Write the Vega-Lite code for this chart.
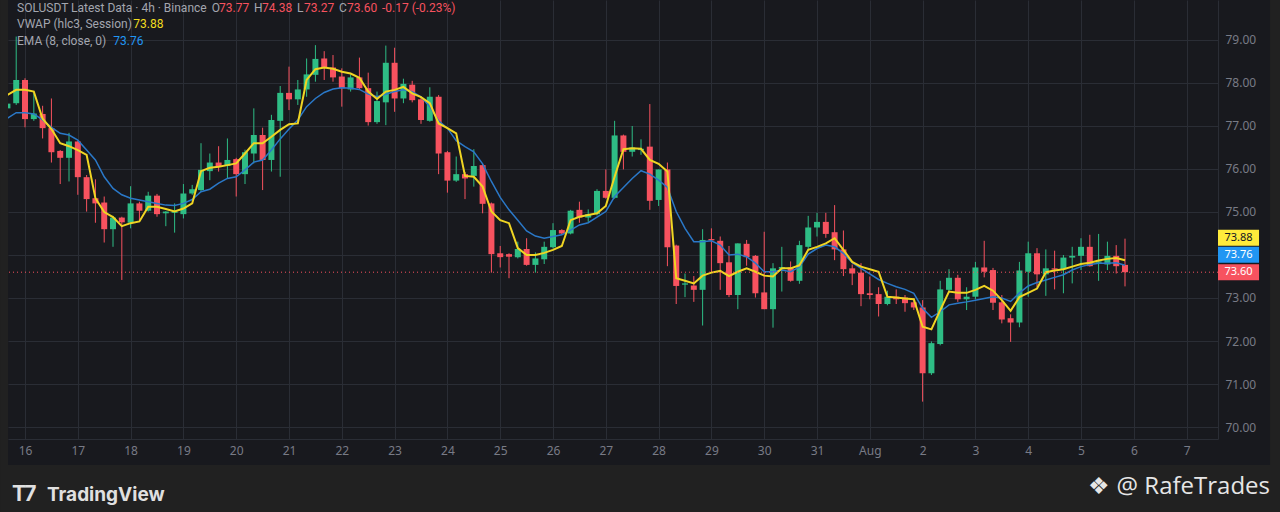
{
  "$schema": "https://vega.github.io/schema/vega-lite/v6.json",
  "width": 1210,
  "height": 439,
  "autosize": "none",
  "padding": {"left": 8, "top": 0, "right": 62, "bottom": 73},
  "background": "#18191e",
  "config": {"view": {"stroke": null}, "font": "Noto Sans"},
  "datasets": {
    "candles": [
      {"t": "2023-07-15T16:00Z", "o": 77.41, "h": 77.60, "l": 77.35, "c": 77.52, "vw": 77.72, "ema": 77.18},
      {"t": "2023-07-15T20:00Z", "o": 77.53, "h": 79.08, "l": 77.49, "c": 78.07, "vw": 77.84, "ema": 77.31},
      {"t": "2023-07-16T00:00Z", "o": 78.07, "h": 78.11, "l": 76.97, "c": 77.16, "vw": 77.84, "ema": 77.31},
      {"t": "2023-07-16T04:00Z", "o": 77.16, "h": 77.76, "l": 77.12, "c": 77.29, "vw": 77.80, "ema": 77.28},
      {"t": "2023-07-16T08:00Z", "o": 77.28, "h": 77.47, "l": 76.71, "c": 76.95, "vw": 77.17, "ema": 77.14},
      {"t": "2023-07-16T12:00Z", "o": 76.95, "h": 77.64, "l": 76.15, "c": 76.39, "vw": 76.93, "ema": 76.97},
      {"t": "2023-07-16T16:00Z", "o": 76.42, "h": 76.44, "l": 75.65, "c": 76.26, "vw": 76.60, "ema": 76.83},
      {"t": "2023-07-16T20:00Z", "o": 76.26, "h": 76.84, "l": 75.71, "c": 76.64, "vw": 76.53, "ema": 76.79},
      {"t": "2023-07-17T00:00Z", "o": 76.64, "h": 76.65, "l": 75.40, "c": 75.81, "vw": 76.44, "ema": 76.67},
      {"t": "2023-07-17T04:00Z", "o": 75.81, "h": 75.86, "l": 75.01, "c": 75.30, "vw": 76.33, "ema": 76.44},
      {"t": "2023-07-17T08:00Z", "o": 75.32, "h": 75.76, "l": 74.75, "c": 75.20, "vw": 75.32, "ema": 76.21},
      {"t": "2023-07-17T12:00Z", "o": 75.22, "h": 75.36, "l": 74.29, "c": 74.60, "vw": 75.00, "ema": 75.82},
      {"t": "2023-07-17T16:00Z", "o": 74.60, "h": 74.91, "l": 74.19, "c": 74.87, "vw": 74.88, "ema": 75.55},
      {"t": "2023-07-17T20:00Z", "o": 74.87, "h": 74.89, "l": 73.42, "c": 74.76, "vw": 74.67, "ema": 75.40},
      {"t": "2023-07-18T00:00Z", "o": 74.75, "h": 75.60, "l": 74.62, "c": 75.20, "vw": 74.74, "ema": 75.32},
      {"t": "2023-07-18T04:00Z", "o": 75.20, "h": 75.24, "l": 74.81, "c": 75.03, "vw": 74.78, "ema": 75.28},
      {"t": "2023-07-18T08:00Z", "o": 75.03, "h": 75.47, "l": 75.01, "c": 75.38, "vw": 75.12, "ema": 75.24},
      {"t": "2023-07-18T12:00Z", "o": 75.38, "h": 75.42, "l": 74.89, "c": 74.95, "vw": 75.12, "ema": 75.20},
      {"t": "2023-07-18T16:00Z", "o": 74.97, "h": 75.02, "l": 74.67, "c": 75.01, "vw": 75.07, "ema": 75.16},
      {"t": "2023-07-18T20:00Z", "o": 74.98, "h": 75.20, "l": 74.52, "c": 75.01, "vw": 75.01, "ema": 75.15},
      {"t": "2023-07-19T00:00Z", "o": 74.95, "h": 75.65, "l": 74.85, "c": 75.43, "vw": 75.08, "ema": 75.20},
      {"t": "2023-07-19T04:00Z", "o": 75.43, "h": 75.63, "l": 75.40, "c": 75.53, "vw": 75.20, "ema": 75.29},
      {"t": "2023-07-19T08:00Z", "o": 75.51, "h": 76.60, "l": 75.47, "c": 75.98, "vw": 75.95, "ema": 75.47},
      {"t": "2023-07-19T12:00Z", "o": 75.95, "h": 76.36, "l": 75.74, "c": 76.15, "vw": 76.03, "ema": 75.53},
      {"t": "2023-07-19T16:00Z", "o": 76.15, "h": 76.53, "l": 75.94, "c": 76.05, "vw": 76.05, "ema": 75.67},
      {"t": "2023-07-19T20:00Z", "o": 76.07, "h": 76.71, "l": 75.78, "c": 76.21, "vw": 76.09, "ema": 75.78},
      {"t": "2023-07-20T00:00Z", "o": 76.23, "h": 76.26, "l": 75.36, "c": 75.88, "vw": 76.13, "ema": 75.82},
      {"t": "2023-07-20T04:00Z", "o": 75.88, "h": 76.45, "l": 75.65, "c": 76.39, "vw": 76.36, "ema": 75.98},
      {"t": "2023-07-20T08:00Z", "o": 76.36, "h": 77.41, "l": 76.13, "c": 76.79, "vw": 76.60, "ema": 76.16},
      {"t": "2023-07-20T12:00Z", "o": 76.79, "h": 76.96, "l": 75.51, "c": 76.21, "vw": 76.60, "ema": 76.21},
      {"t": "2023-07-20T16:00Z", "o": 76.21, "h": 77.26, "l": 75.94, "c": 77.14, "vw": 76.75, "ema": 76.44},
      {"t": "2023-07-20T20:00Z", "o": 77.12, "h": 77.93, "l": 75.82, "c": 77.77, "vw": 76.91, "ema": 76.70},
      {"t": "2023-07-21T00:00Z", "o": 77.77, "h": 78.38, "l": 77.37, "c": 77.62, "vw": 77.04, "ema": 76.93},
      {"t": "2023-07-21T04:00Z", "o": 77.62, "h": 78.07, "l": 77.49, "c": 77.85, "vw": 77.06, "ema": 77.14},
      {"t": "2023-07-21T08:00Z", "o": 77.85, "h": 78.57, "l": 77.68, "c": 78.20, "vw": 78.07, "ema": 77.45},
      {"t": "2023-07-21T12:00Z", "o": 78.19, "h": 78.88, "l": 78.03, "c": 78.56, "vw": 78.32, "ema": 77.64},
      {"t": "2023-07-21T16:00Z", "o": 78.57, "h": 78.74, "l": 78.07, "c": 78.36, "vw": 78.36, "ema": 77.78},
      {"t": "2023-07-21T20:00Z", "o": 78.36, "h": 78.65, "l": 78.03, "c": 78.13, "vw": 78.33, "ema": 77.86},
      {"t": "2023-07-22T00:00Z", "o": 78.15, "h": 78.34, "l": 77.45, "c": 77.88, "vw": 78.26, "ema": 77.89},
      {"t": "2023-07-22T04:00Z", "o": 77.85, "h": 78.20, "l": 77.80, "c": 78.13, "vw": 78.22, "ema": 77.88},
      {"t": "2023-07-22T08:00Z", "o": 78.13, "h": 78.59, "l": 77.84, "c": 77.88, "vw": 78.12, "ema": 77.85},
      {"t": "2023-07-22T12:00Z", "o": 77.88, "h": 78.24, "l": 77.01, "c": 77.09, "vw": 77.80, "ema": 77.74},
      {"t": "2023-07-22T16:00Z", "o": 77.09, "h": 77.80, "l": 77.05, "c": 77.58, "vw": 77.63, "ema": 77.68},
      {"t": "2023-07-22T20:00Z", "o": 77.55, "h": 78.87, "l": 77.02, "c": 78.47, "vw": 77.80, "ema": 77.74},
      {"t": "2023-07-23T00:00Z", "o": 78.47, "h": 78.82, "l": 77.33, "c": 77.64, "vw": 77.84, "ema": 77.80},
      {"t": "2023-07-23T04:00Z", "o": 77.64, "h": 78.10, "l": 77.53, "c": 77.98, "vw": 77.91, "ema": 77.84},
      {"t": "2023-07-23T08:00Z", "o": 77.96, "h": 78.05, "l": 77.55, "c": 77.60, "vw": 77.76, "ema": 77.80},
      {"t": "2023-07-23T12:00Z", "o": 77.62, "h": 77.68, "l": 77.05, "c": 77.14, "vw": 77.67, "ema": 77.68},
      {"t": "2023-07-23T16:00Z", "o": 77.12, "h": 77.90, "l": 77.10, "c": 77.68, "vw": 77.53, "ema": 77.45},
      {"t": "2023-07-23T20:00Z", "o": 77.68, "h": 77.72, "l": 75.88, "c": 76.36, "vw": 77.06, "ema": 77.12},
      {"t": "2023-07-24T00:00Z", "o": 76.39, "h": 76.42, "l": 75.45, "c": 75.73, "vw": 76.95, "ema": 76.95},
      {"t": "2023-07-24T04:00Z", "o": 75.73, "h": 76.29, "l": 75.70, "c": 75.88, "vw": 76.83, "ema": 76.66},
      {"t": "2023-07-24T08:00Z", "o": 75.88, "h": 75.93, "l": 75.30, "c": 75.78, "vw": 75.84, "ema": 76.52},
      {"t": "2023-07-24T12:00Z", "o": 75.84, "h": 76.46, "l": 75.59, "c": 76.07, "vw": 75.82, "ema": 76.40},
      {"t": "2023-07-24T16:00Z", "o": 76.09, "h": 76.12, "l": 74.97, "c": 75.19, "vw": 75.59, "ema": 76.12},
      {"t": "2023-07-24T20:00Z", "o": 75.20, "h": 75.22, "l": 73.59, "c": 74.02, "vw": 75.01, "ema": 75.71},
      {"t": "2023-07-25T00:00Z", "o": 74.04, "h": 74.21, "l": 73.71, "c": 73.95, "vw": 74.81, "ema": 75.34},
      {"t": "2023-07-25T04:00Z", "o": 74.02, "h": 74.04, "l": 73.46, "c": 73.96, "vw": 74.74, "ema": 75.05},
      {"t": "2023-07-25T08:00Z", "o": 73.95, "h": 74.31, "l": 73.92, "c": 74.14, "vw": 74.16, "ema": 74.81},
      {"t": "2023-07-25T12:00Z", "o": 74.14, "h": 74.39, "l": 73.75, "c": 73.77, "vw": 74.00, "ema": 74.56},
      {"t": "2023-07-25T16:00Z", "o": 73.77, "h": 74.06, "l": 73.59, "c": 73.92, "vw": 74.00, "ema": 74.44},
      {"t": "2023-07-25T20:00Z", "o": 73.90, "h": 74.31, "l": 73.79, "c": 74.19, "vw": 74.05, "ema": 74.39},
      {"t": "2023-07-26T00:00Z", "o": 74.18, "h": 74.74, "l": 74.15, "c": 74.58, "vw": 74.12, "ema": 74.43},
      {"t": "2023-07-26T04:00Z", "o": 74.58, "h": 74.60, "l": 74.48, "c": 74.50, "vw": 74.21, "ema": 74.47},
      {"t": "2023-07-26T08:00Z", "o": 74.50, "h": 75.05, "l": 74.48, "c": 75.03, "vw": 74.81, "ema": 74.58},
      {"t": "2023-07-26T12:00Z", "o": 75.05, "h": 75.24, "l": 74.75, "c": 74.87, "vw": 74.89, "ema": 74.70},
      {"t": "2023-07-26T16:00Z", "o": 74.87, "h": 75.06, "l": 74.77, "c": 74.95, "vw": 74.93, "ema": 74.75},
      {"t": "2023-07-26T20:00Z", "o": 74.95, "h": 75.53, "l": 74.92, "c": 75.49, "vw": 74.97, "ema": 74.88},
      {"t": "2023-07-27T00:00Z", "o": 75.49, "h": 75.99, "l": 75.31, "c": 75.33, "vw": 75.14, "ema": 75.01},
      {"t": "2023-07-27T04:00Z", "o": 75.33, "h": 77.12, "l": 75.31, "c": 76.78, "vw": 75.82, "ema": 75.36},
      {"t": "2023-07-27T08:00Z", "o": 76.78, "h": 76.80, "l": 75.99, "c": 76.40, "vw": 76.46, "ema": 75.57},
      {"t": "2023-07-27T12:00Z", "o": 76.40, "h": 77.00, "l": 76.29, "c": 76.50, "vw": 76.48, "ema": 75.78},
      {"t": "2023-07-27T16:00Z", "o": 76.44, "h": 76.69, "l": 76.33, "c": 76.47, "vw": 76.47, "ema": 75.96},
      {"t": "2023-07-27T20:00Z", "o": 76.52, "h": 77.51, "l": 75.05, "c": 75.26, "vw": 76.21, "ema": 75.88},
      {"t": "2023-07-28T00:00Z", "o": 75.28, "h": 75.99, "l": 75.14, "c": 75.99, "vw": 76.12, "ema": 75.74},
      {"t": "2023-07-28T04:00Z", "o": 75.99, "h": 76.15, "l": 73.74, "c": 74.18, "vw": 75.94, "ema": 75.57},
      {"t": "2023-07-28T08:00Z", "o": 74.22, "h": 74.24, "l": 72.86, "c": 73.28, "vw": 73.46, "ema": 75.01},
      {"t": "2023-07-28T12:00Z", "o": 73.31, "h": 73.57, "l": 73.02, "c": 73.34, "vw": 73.40, "ema": 74.62},
      {"t": "2023-07-28T16:00Z", "o": 73.29, "h": 73.51, "l": 72.91, "c": 73.19, "vw": 73.34, "ema": 74.31},
      {"t": "2023-07-28T20:00Z", "o": 73.19, "h": 74.60, "l": 72.36, "c": 74.35, "vw": 73.52, "ema": 74.31},
      {"t": "2023-07-29T00:00Z", "o": 74.37, "h": 74.62, "l": 73.60, "c": 74.34, "vw": 73.59, "ema": 74.33},
      {"t": "2023-07-29T04:00Z", "o": 74.33, "h": 74.43, "l": 73.19, "c": 73.81, "vw": 73.63, "ema": 74.23},
      {"t": "2023-07-29T08:00Z", "o": 73.83, "h": 74.21, "l": 73.02, "c": 73.07, "vw": 73.51, "ema": 74.00},
      {"t": "2023-07-29T12:00Z", "o": 73.07, "h": 74.27, "l": 72.74, "c": 74.27, "vw": 73.61, "ema": 74.02},
      {"t": "2023-07-29T16:00Z", "o": 74.26, "h": 74.35, "l": 73.75, "c": 73.95, "vw": 73.69, "ema": 73.96},
      {"t": "2023-07-29T20:00Z", "o": 73.98, "h": 74.00, "l": 73.01, "c": 73.11, "vw": 73.61, "ema": 73.81},
      {"t": "2023-07-30T00:00Z", "o": 73.13, "h": 74.54, "l": 72.74, "c": 72.74, "vw": 73.52, "ema": 73.61},
      {"t": "2023-07-30T04:00Z", "o": 72.74, "h": 73.81, "l": 72.31, "c": 73.69, "vw": 73.50, "ema": 73.61},
      {"t": "2023-07-30T08:00Z", "o": 73.68, "h": 74.19, "l": 73.15, "c": 73.72, "vw": 73.69, "ema": 73.65},
      {"t": "2023-07-30T12:00Z", "o": 73.71, "h": 73.85, "l": 73.38, "c": 73.40, "vw": 73.69, "ema": 73.61},
      {"t": "2023-07-30T16:00Z", "o": 73.40, "h": 74.33, "l": 73.33, "c": 74.23, "vw": 73.76, "ema": 73.72},
      {"t": "2023-07-30T20:00Z", "o": 74.19, "h": 74.91, "l": 74.12, "c": 74.64, "vw": 74.12, "ema": 74.02},
      {"t": "2023-07-31T00:00Z", "o": 74.64, "h": 74.98, "l": 74.43, "c": 74.77, "vw": 74.19, "ema": 74.15},
      {"t": "2023-07-31T04:00Z", "o": 74.77, "h": 74.98, "l": 74.40, "c": 74.49, "vw": 74.27, "ema": 74.23},
      {"t": "2023-07-31T08:00Z", "o": 74.53, "h": 75.16, "l": 73.88, "c": 74.13, "vw": 74.39, "ema": 74.19},
      {"t": "2023-07-31T12:00Z", "o": 74.13, "h": 74.57, "l": 73.51, "c": 73.67, "vw": 74.12, "ema": 74.04},
      {"t": "2023-07-31T16:00Z", "o": 73.69, "h": 73.78, "l": 73.30, "c": 73.57, "vw": 73.84, "ema": 73.82},
      {"t": "2023-07-31T20:00Z", "o": 73.59, "h": 73.81, "l": 72.81, "c": 73.09, "vw": 73.73, "ema": 73.69},
      {"t": "2023-08-01T00:00Z", "o": 73.11, "h": 73.50, "l": 72.97, "c": 73.07, "vw": 73.67, "ema": 73.56},
      {"t": "2023-08-01T04:00Z", "o": 73.09, "h": 73.25, "l": 72.57, "c": 72.86, "vw": 73.61, "ema": 73.43},
      {"t": "2023-08-01T08:00Z", "o": 72.86, "h": 73.17, "l": 72.83, "c": 73.03, "vw": 73.03, "ema": 73.34},
      {"t": "2023-08-01T12:00Z", "o": 73.03, "h": 73.20, "l": 72.86, "c": 72.97, "vw": 73.01, "ema": 73.26},
      {"t": "2023-08-01T16:00Z", "o": 73.01, "h": 73.07, "l": 72.68, "c": 72.88, "vw": 72.99, "ema": 73.20},
      {"t": "2023-08-01T20:00Z", "o": 72.90, "h": 72.99, "l": 72.72, "c": 72.78, "vw": 72.97, "ema": 73.11},
      {"t": "2023-08-02T00:00Z", "o": 72.78, "h": 72.95, "l": 70.59, "c": 71.25, "vw": 72.33, "ema": 72.76},
      {"t": "2023-08-02T04:00Z", "o": 71.25, "h": 71.99, "l": 71.21, "c": 71.95, "vw": 72.27, "ema": 72.55},
      {"t": "2023-08-02T08:00Z", "o": 71.93, "h": 73.40, "l": 71.90, "c": 73.20, "vw": 72.72, "ema": 72.68},
      {"t": "2023-08-02T12:00Z", "o": 73.19, "h": 73.67, "l": 73.15, "c": 73.47, "vw": 73.15, "ema": 72.84},
      {"t": "2023-08-02T16:00Z", "o": 73.47, "h": 73.54, "l": 72.91, "c": 72.97, "vw": 73.12, "ema": 72.88},
      {"t": "2023-08-02T20:00Z", "o": 72.97, "h": 73.25, "l": 72.72, "c": 73.03, "vw": 73.12, "ema": 72.91},
      {"t": "2023-08-03T00:00Z", "o": 73.03, "h": 73.84, "l": 72.97, "c": 73.71, "vw": 73.19, "ema": 72.95},
      {"t": "2023-08-03T04:00Z", "o": 73.71, "h": 74.33, "l": 73.48, "c": 73.61, "vw": 73.28, "ema": 72.99},
      {"t": "2023-08-03T08:00Z", "o": 73.65, "h": 73.70, "l": 72.72, "c": 72.89, "vw": 73.17, "ema": 73.03},
      {"t": "2023-08-03T12:00Z", "o": 72.90, "h": 73.07, "l": 72.41, "c": 72.50, "vw": 72.95, "ema": 73.00},
      {"t": "2023-08-03T16:00Z", "o": 72.53, "h": 72.62, "l": 71.98, "c": 72.43, "vw": 72.70, "ema": 72.92},
      {"t": "2023-08-03T20:00Z", "o": 72.43, "h": 73.84, "l": 72.32, "c": 73.64, "vw": 73.02, "ema": 73.12},
      {"t": "2023-08-04T00:00Z", "o": 73.61, "h": 74.31, "l": 73.03, "c": 74.04, "vw": 73.12, "ema": 73.28},
      {"t": "2023-08-04T04:00Z", "o": 74.04, "h": 74.16, "l": 73.26, "c": 73.55, "vw": 73.22, "ema": 73.36},
      {"t": "2023-08-04T08:00Z", "o": 73.55, "h": 74.13, "l": 73.05, "c": 73.69, "vw": 73.60, "ema": 73.42},
      {"t": "2023-08-04T12:00Z", "o": 73.69, "h": 74.10, "l": 73.20, "c": 73.66, "vw": 73.64, "ema": 73.48},
      {"t": "2023-08-04T16:00Z", "o": 73.67, "h": 74.00, "l": 73.11, "c": 73.94, "vw": 73.67, "ema": 73.54},
      {"t": "2023-08-04T20:00Z", "o": 73.94, "h": 74.19, "l": 73.34, "c": 73.98, "vw": 73.73, "ema": 73.65},
      {"t": "2023-08-05T00:00Z", "o": 73.98, "h": 74.39, "l": 73.65, "c": 74.19, "vw": 73.79, "ema": 73.73},
      {"t": "2023-08-05T04:00Z", "o": 74.19, "h": 74.47, "l": 73.73, "c": 73.74, "vw": 73.82, "ema": 73.78},
      {"t": "2023-08-05T08:00Z", "o": 73.82, "h": 74.49, "l": 73.40, "c": 73.85, "vw": 73.87, "ema": 73.81},
      {"t": "2023-08-05T12:00Z", "o": 73.78, "h": 74.31, "l": 73.65, "c": 73.98, "vw": 73.91, "ema": 73.81},
      {"t": "2023-08-05T16:00Z", "o": 73.98, "h": 74.23, "l": 73.57, "c": 73.74, "vw": 73.93, "ema": 73.82},
      {"t": "2023-08-05T20:00Z", "o": 73.77, "h": 74.38, "l": 73.27, "c": 73.60, "vw": 73.88, "ema": 73.76}
    ],
    "header": [
      {"t": "2023-07-15T20:22Z", "p": 79.744, "txt": "SOLUSDT Latest Data · 4h · Binance", "kind": "label"},
      {"t": "2023-07-19T12:52Z", "p": 79.744, "txt": "O", "kind": "label"},
      {"t": "2023-07-19T16:11Z", "p": 79.744, "txt": "73.77", "kind": "down"},
      {"t": "2023-07-20T08:05Z", "p": 79.744, "txt": "H", "kind": "label"},
      {"t": "2023-07-20T11:44Z", "p": 79.744, "txt": "74.38", "kind": "down"},
      {"t": "2023-07-21T03:38Z", "p": 79.744, "txt": "L", "kind": "label"},
      {"t": "2023-07-21T06:49Z", "p": 79.744, "txt": "73.27", "kind": "down"},
      {"t": "2023-07-21T22:44Z", "p": 79.744, "txt": "C", "kind": "label"},
      {"t": "2023-07-22T02:22Z", "p": 79.744, "txt": "73.60", "kind": "down"},
      {"t": "2023-07-22T18:16Z", "p": 79.744, "txt": "-0.17 (-0.23%)", "kind": "down"},
      {"t": "2023-07-15T20:22Z", "p": 79.372, "txt": "VWAP (hlc3, Session)", "kind": "label"},
      {"t": "2023-07-18T01:14Z", "p": 79.372, "txt": "73.88", "kind": "vwap"},
      {"t": "2023-07-15T20:22Z", "p": 78.977, "txt": "EMA (8, close, 0)", "kind": "label"},
      {"t": "2023-07-17T16:09Z", "p": 78.977, "txt": "73.76", "kind": "ema"}
    ]
  },
  "layer": [
    {
      "data": {"values": [{}]},
      "mark": {"type": "rect", "color": "#212121", "clip": false},
      "encoding": {
        "x": {"datum": {"year": 2023, "month": 7, "date": 15, "hours": 12, "minutes": 38, "utc": true}, "type": "temporal"},
        "x2": {"datum": {"year": 2023, "month": 8, "date": 8, "hours": 18, "minutes": 27, "utc": true}},
        "y": {"datum": 69.116, "type": "quantitative"},
        "y2": {"datum": 68.023}
      }
    },
    {
      "data": {"values": [{}]},
      "mark": {"type": "rect", "color": "#212121", "clip": false},
      "encoding": {
        "x": {"datum": {"year": 2023, "month": 7, "date": 15, "hours": 12, "minutes": 38, "utc": true}, "type": "temporal"},
        "x2": {"datum": {"year": 2023, "month": 7, "date": 15, "hours": 16, "minutes": 16, "utc": true}},
        "y": {"datum": 79.93, "type": "quantitative"},
        "y2": {"datum": 69.116}
      }
    },
    {
      "data": {"values": [{}]},
      "mark": {"type": "rect", "color": "#212121", "clip": false},
      "encoding": {
        "x": {"datum": {"year": 2023, "month": 8, "date": 8, "hours": 13, "minutes": 55, "utc": true}, "type": "temporal"},
        "x2": {"datum": {"year": 2023, "month": 8, "date": 8, "hours": 18, "minutes": 27, "utc": true}},
        "y": {"datum": 79.93, "type": "quantitative"},
        "y2": {"datum": 69.116}
      }
    },
    {
      "data": {"name": "candles"},
      "mark": {"type": "rule", "strokeWidth": 1, "clip": true},
      "encoding": {
        "x": {
          "field": "t",
          "type": "temporal",
          "title": null,
          "scale": {
            "type": "utc",
            "padding": 0,
            "domain": [
              {"year": 2023, "month": 7, "date": 15, "hours": 16, "minutes": 16, "utc": true},
              {"year": 2023, "month": 8, "date": 7, "hours": 14, "minutes": 16, "utc": true}
            ]
          },
          "axis": {
            "orient": "bottom",
            "grid": true,
            "gridColor": "#2a2d35",
            "domainColor": "#2a2d35",
            "ticks": false,
            "labelColor": "#787b86",
            "labelFontSize": 12,
            "labelPadding": 6,
            "labelFlush": false,
            "labelOverlap": false,
            "tickCount": {"interval": "day", "step": 1},
            "labelExpr": "utcdate(datum.value) == 1 ? utcFormat(datum.value, '%b') : utcFormat(datum.value, '%-d')"
          }
        },
        "y": {
          "field": "l",
          "type": "quantitative",
          "title": null,
          "scale": {"domain": [69.721, 79.93], "zero": false, "nice": false, "padding": 0},
          "axis": {
            "orient": "right",
            "values": [70, 71, 72, 73, 74, 75, 76, 77, 78, 79],
            "labelExpr": "datum.value == 74 ? '' : format(datum.value, '.2f')",
            "grid": true,
            "gridColor": "#2a2d35",
            "domainColor": "#2a2d35",
            "ticks": false,
            "labelColor": "#787b86",
            "labelFontSize": 12,
            "labelPadding": 7
          }
        },
        "y2": {"field": "h"},
        "color": {
          "condition": {"test": "datum.c >= datum.o", "value": "#2ebd85"},
          "value": "#f7525f"
        }
      }
    },
    {
      "data": {"name": "candles"},
      "mark": {"type": "bar", "size": 6, "orient": "vertical", "clip": true},
      "encoding": {
        "x": {"field": "t", "type": "temporal", "title": null},
        "y": {"field": "o", "type": "quantitative", "title": null},
        "y2": {"field": "c"},
        "color": {
          "condition": {"test": "datum.c >= datum.o", "value": "#2ebd85"},
          "value": "#f7525f"
        }
      }
    },
    {
      "data": {"name": "candles"},
      "mark": {"type": "line", "color": "#2a78c8", "strokeWidth": 1.5, "clip": true},
      "encoding": {
        "x": {"field": "t", "type": "temporal", "title": null},
        "y": {"field": "ema", "type": "quantitative", "title": null}
      }
    },
    {
      "data": {"name": "candles"},
      "mark": {"type": "line", "color": "#f0d523", "strokeWidth": 2, "clip": true},
      "encoding": {
        "x": {"field": "t", "type": "temporal", "title": null},
        "y": {"field": "vw", "type": "quantitative", "title": null}
      }
    },
    {
      "data": {"values": [{}]},
      "mark": {"type": "rule", "color": "#f7525f", "strokeDash": [1, 3], "strokeWidth": 1},
      "encoding": {"y": {"datum": 73.6, "type": "quantitative"}}
    },
    {
      "data": {"name": "header"},
      "mark": {"type": "text", "font": "Roboto", "align": "left", "baseline": "middle", "fontSize": 12, "clip": false},
      "encoding": {
        "x": {"field": "t", "type": "temporal", "title": null},
        "y": {"field": "p", "type": "quantitative", "title": null},
        "text": {"field": "txt"},
        "color": {
          "field": "kind",
          "type": "nominal",
          "legend": null,
          "scale": {"domain": ["label", "down", "vwap", "ema"], "range": ["#a3a6af", "#f7525f", "#f2dd1f", "#2196f3"]}
        }
      }
    },
    {
      "data": {"values": [{}]},
      "mark": {"type": "bar", "orient": "horizontal", "size": 16, "color": "#ffeb3b", "yOffset": -22.5, "clip": false},
      "encoding": {
        "x": {"datum": {"year": 2023, "month": 8, "date": 7, "hours": 14, "minutes": 16, "utc": true}, "type": "temporal"},
        "x2": {"datum": {"year": 2023, "month": 8, "date": 8, "hours": 8, "minutes": 55, "utc": true}},
        "y": {"datum": 73.88, "type": "quantitative"}
      }
    },
    {
      "data": {"values": [{}]},
      "mark": {"type": "bar", "orient": "horizontal", "size": 16, "color": "#2196f3", "yOffset": -10.5, "clip": false},
      "encoding": {
        "x": {"datum": {"year": 2023, "month": 8, "date": 7, "hours": 14, "minutes": 16, "utc": true}, "type": "temporal"},
        "x2": {"datum": {"year": 2023, "month": 8, "date": 8, "hours": 8, "minutes": 55, "utc": true}},
        "y": {"datum": 73.76, "type": "quantitative"}
      }
    },
    {
      "data": {"values": [{}]},
      "mark": {"type": "bar", "orient": "horizontal", "size": 16, "color": "#f7525f", "clip": false},
      "encoding": {
        "x": {"datum": {"year": 2023, "month": 8, "date": 7, "hours": 14, "minutes": 16, "utc": true}, "type": "temporal"},
        "x2": {"datum": {"year": 2023, "month": 8, "date": 8, "hours": 8, "minutes": 55, "utc": true}},
        "y": {"datum": 73.6, "type": "quantitative"}
      }
    },
    {
      "data": {"values": [{}]},
      "mark": {"type": "text", "text": "73.88", "color": "#131722", "fontSize": 11, "align": "center", "baseline": "middle", "yOffset": -22.5, "clip": false},
      "encoding": {
        "x": {"datum": {"year": 2023, "month": 8, "date": 7, "hours": 23, "minutes": 35, "utc": true}, "type": "temporal"},
        "y": {"datum": 73.88, "type": "quantitative"}
      }
    },
    {
      "data": {"values": [{}]},
      "mark": {"type": "text", "text": "73.76", "color": "#ffffff", "fontSize": 11, "align": "center", "baseline": "middle", "yOffset": -10.5, "clip": false},
      "encoding": {
        "x": {"datum": {"year": 2023, "month": 8, "date": 7, "hours": 23, "minutes": 35, "utc": true}, "type": "temporal"},
        "y": {"datum": 73.76, "type": "quantitative"}
      }
    },
    {
      "data": {"values": [{}]},
      "mark": {"type": "text", "text": "73.60", "color": "#ffffff", "fontSize": 11, "align": "center", "baseline": "middle", "clip": false},
      "encoding": {
        "x": {"datum": {"year": 2023, "month": 8, "date": 7, "hours": 23, "minutes": 35, "utc": true}, "type": "temporal"},
        "y": {"datum": 73.6, "type": "quantitative"}
      }
    },
    {
      "data": {"values": [{}]},
      "mark": {"type": "text", "text": "T7", "font": "Inter", "fontWeight": "bold", "fontSize": 21, "color": "#e0e0e0", "align": "left", "baseline": "middle", "clip": false},
      "encoding": {
        "x": {"datum": {"year": 2023, "month": 7, "date": 15, "hours": 18, "minutes": 5, "utc": true}, "type": "temporal"},
        "y": {"datum": 68.42, "type": "quantitative"}
      }
    },
    {
      "data": {"values": [{}]},
      "mark": {"type": "text", "text": "TradingView", "font": "Inter", "fontWeight": "bold", "fontSize": 19, "color": "#e0e0e0", "align": "left", "baseline": "middle", "clip": false},
      "encoding": {
        "x": {"datum": {"year": 2023, "month": 7, "date": 16, "hours": 10, "utc": true}, "type": "temporal"},
        "y": {"datum": 68.42, "type": "quantitative"}
      }
    },
    {
      "data": {"values": [{}]},
      "mark": {"type": "text", "text": "❖ @ RafeTrades", "font": "Open Sans", "fontSize": 24, "color": "#e6e6e6", "align": "right", "baseline": "middle", "clip": false},
      "encoding": {
        "x": {"datum": {"year": 2023, "month": 8, "date": 8, "hours": 13, "minutes": 55, "utc": true}, "type": "temporal"},
        "y": {"datum": 68.6, "type": "quantitative"}
      }
    }
  ]
}
